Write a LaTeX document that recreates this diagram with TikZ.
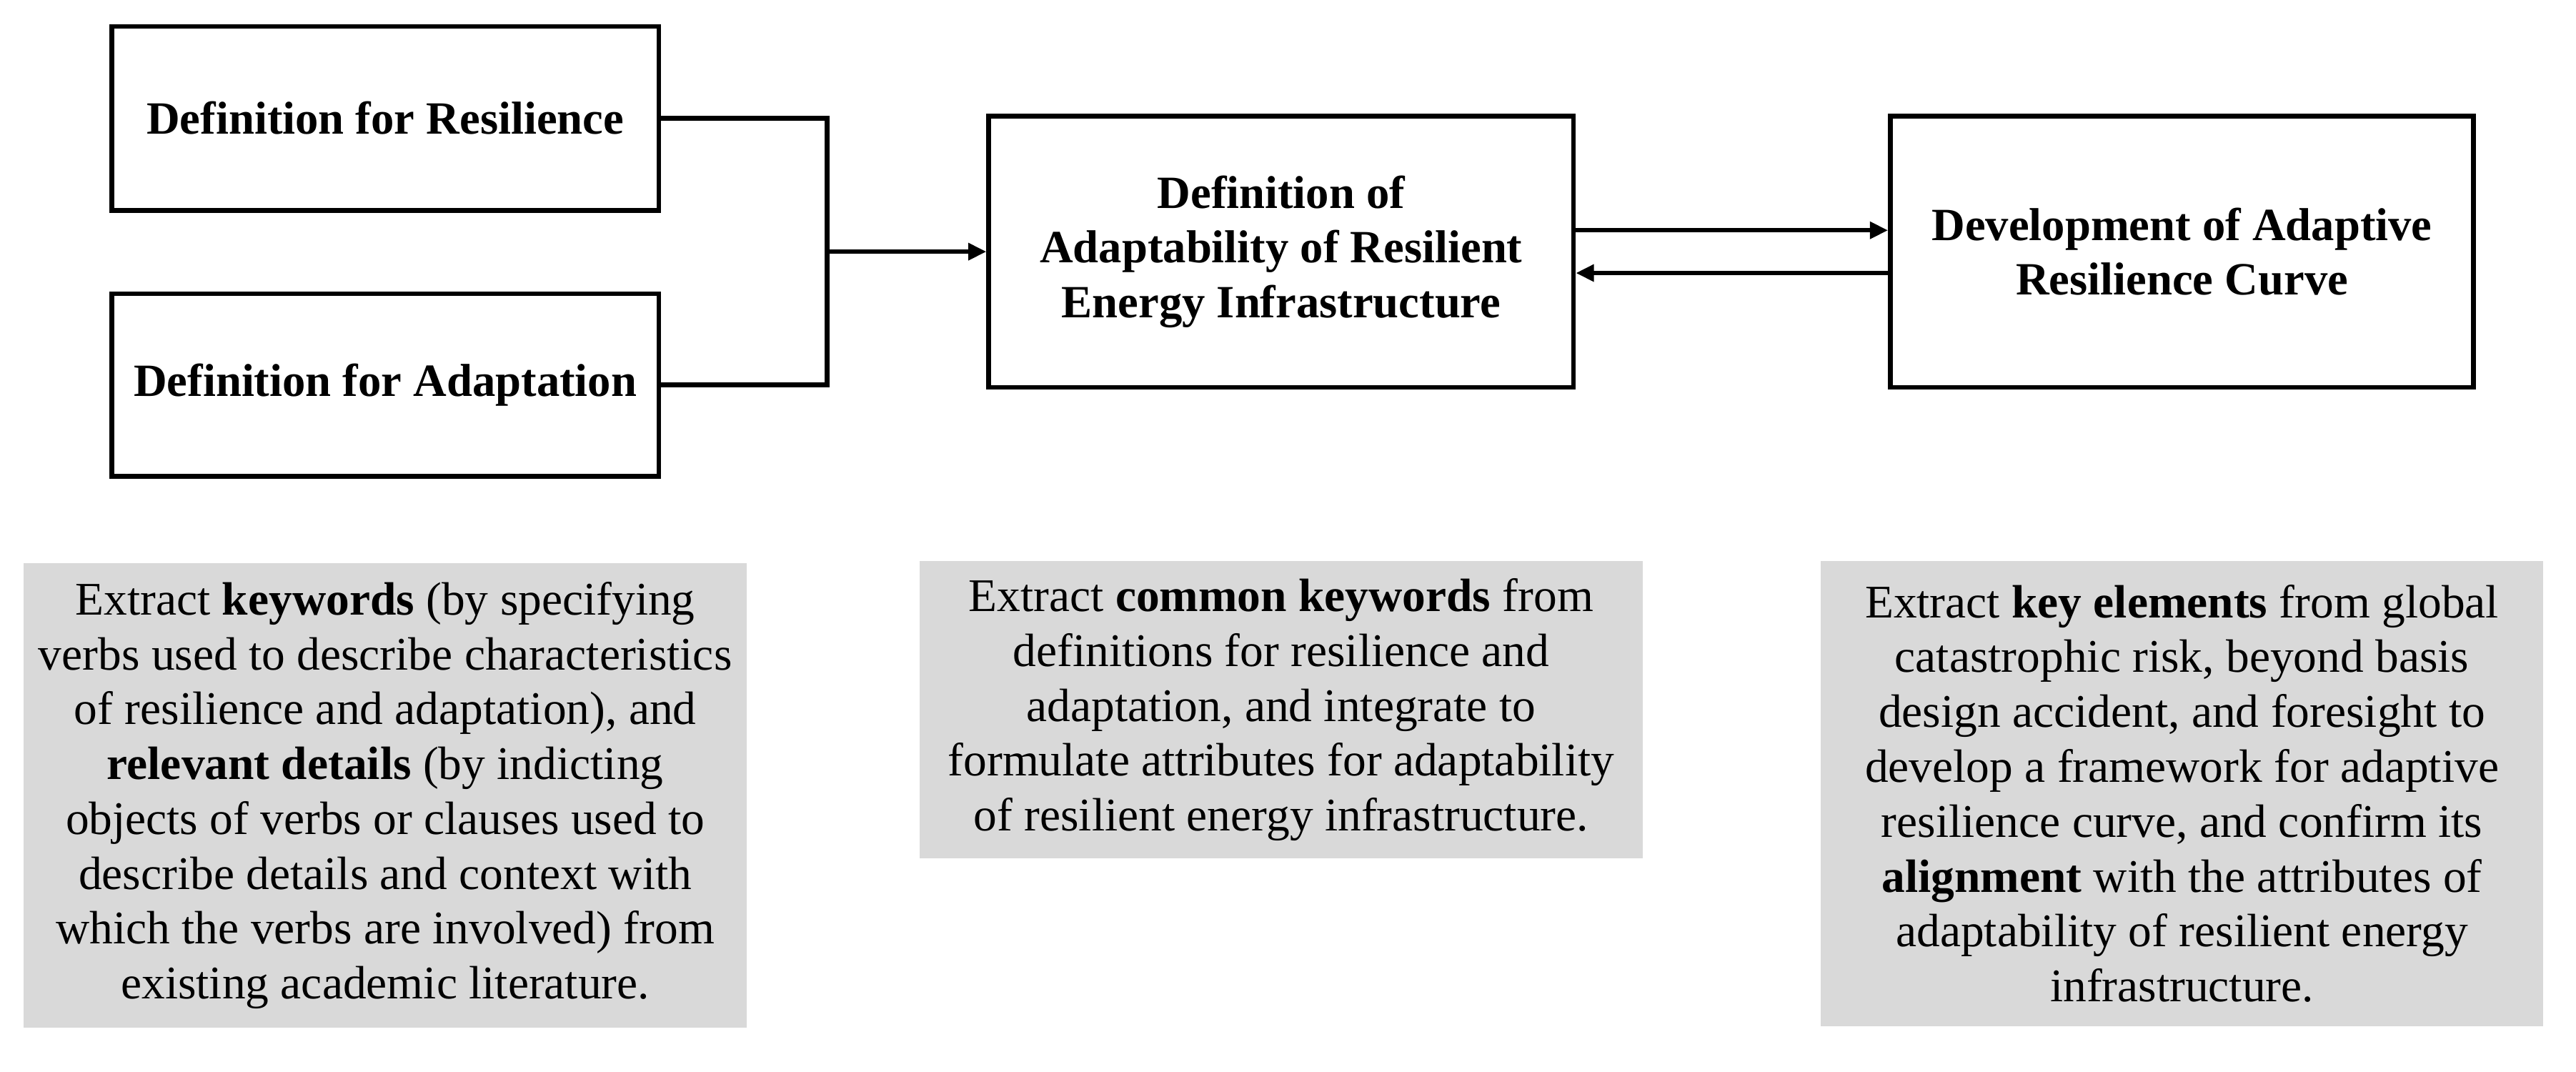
\documentclass[tikz,border=0pt]{standalone}
\usepackage{fontspec}
\setmainfont{Liberation Serif}
\usetikzlibrary{arrows.meta, positioning, calc}
\definecolor{notegray}{HTML}{D9D9D9}

\begin{document}
\begin{tikzpicture}[node distance=0.96cm, auto,
    box/.style={rectangle, draw, line width=1.6pt, align=center, font=\fontsize{16}{19}\selectfont\bfseries},
    note/.style={rectangle, fill=notegray, align=center, minimum width=8.8cm, font=\fontsize{16.2}{19}\selectfont},
    link/.style={line width=1.6pt},
    arr/.style={link, -{Triangle[length=0.22cm, width=0.2cm]}}]

    \useasboundingbox (0,0) rectangle (31.36,-13.04);

    \node[box, minimum width=6.66cm, minimum height=2.24cm] (res) at (4.69,-1.44) {Definition for Resilience};
    \node[box, minimum width=6.66cm, minimum height=2.22cm, below=of res] (ada) {Definition for Adaptation};
    \coordinate (join) at ($(res.east)!0.5!(ada.east)+(2.02,0)$);
    \node[box, minimum width=7.12cm, minimum height=3.3cm, right=3.96cm of {$(res.east)!0.5!(ada.east)$}] (mid) {Definition of\\Adaptability of Resilient\\Energy Infrastructure};
    \node[box, minimum width=7.1cm, minimum height=3.3cm, right=3.8cm of mid] (dev) {Development of Adaptive\\Resilience Curve};

    \node[note, minimum height=5.66cm, below=1.02cm of ada] (noteres) {Extract \textbf{keywords} (by specifying\\verbs used to describe characteristics\\of resilience and adaptation), and\\\textbf{relevant details} (by indicting\\objects of verbs or clauses used to\\describe details and context with\\which the verbs are involved) from\\existing academic literature.};
    \node[note, minimum height=3.62cm, below=2.08cm of mid] (notemid) {Extract \textbf{common keywords} from\\definitions for resilience and\\adaptation, and integrate to\\formulate attributes for adaptability\\of resilient energy infrastructure.};
    \node[note, minimum height=5.66cm, below=2.08cm of dev] (notedev) {Extract \textbf{key elements} from global\\catastrophic risk, beyond basis\\design accident, and foresight to\\develop a framework for adaptive\\resilience curve, and confirm its\\\textbf{alignment} with the attributes of\\adaptability of resilient energy\\infrastructure.};

    \draw[link] (res.east) -| (join) |- (ada.east);
    \draw[arr] (join) -- (mid.west);
    \draw[arr] ([yshift=0.26cm]mid.east) -- ([yshift=0.26cm]dev.west);
    \draw[arr] ([yshift=-0.26cm]dev.west) -- ([yshift=-0.26cm]mid.east);

\end{tikzpicture}
\end{document}
